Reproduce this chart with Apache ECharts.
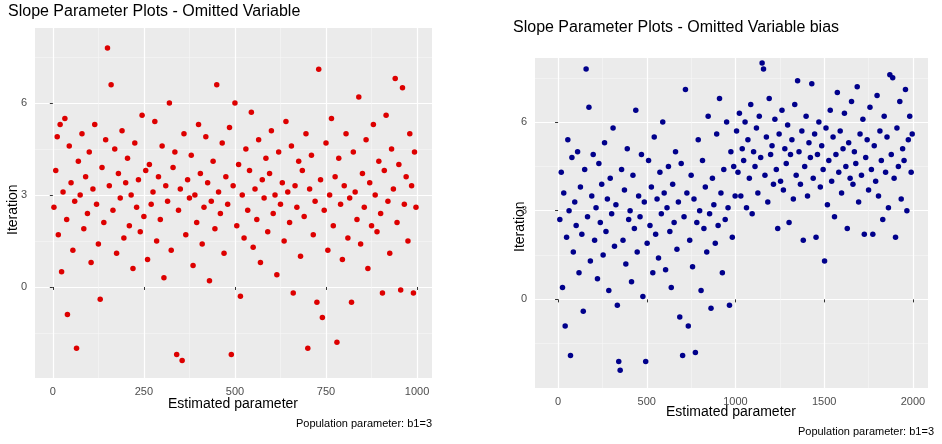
<!DOCTYPE html>
<html>
<head>
<meta charset="UTF-8"/>
<script src="https://cdn.jsdelivr.net/npm/echarts@6/dist/echarts.min.js"></script>
</head>
<body style="margin:0;background:#fff">
<div id="main" style="width:942px;height:444px;"></div>
<script>
// left panel: [estimated parameter index, iteration value]
var leftPoints = [[3,2.6],[8,3.8],[12,4.9],[15,1.7],[20,5.3],[24,0.5],[28,3.1],[33,5.5],[38,2.2],[40,-0.9],[45,4.6],[50,3.4],[55,1.2],[60,2.8],[65,-2],[70,4.1],[75,3.0],[80,5.0],[85,1.9],[90,3.6],[95,2.4],[100,4.4],[105,0.8],[110,3.2],[115,5.3],[120,2.7],[125,1.4],[130,-0.4],[135,3.9],[140,2.1],[145,4.8],[150,7.8],[155,3.3],[160,6.6],[165,2.5],[170,4.5],[175,1.1],[180,3.7],[185,2.9],[190,5.1],[195,1.6],[200,3.4],[205,4.2],[210,2.0],[215,3.0],[220,0.6],[225,4.7],[230,2.6],[235,3.5],[240,1.8],[245,5.6],[250,2.3],[255,3.8],[260,0.9],[265,4.0],[270,2.7],[275,3.1],[280,5.4],[285,1.5],[290,3.6],[295,2.2],[300,4.6],[305,0.3],[310,3.3],[315,2.8],[320,6.0],[325,1.2],[330,3.9],[335,4.4],[340,-2.2],[345,2.5],[350,3.2],[355,-2.4],[360,5.0],[365,1.7],[370,3.5],[375,2.9],[380,4.3],[385,0.7],[390,3.0],[395,2.1],[400,5.3],[405,3.7],[410,1.4],[415,2.6],[420,4.9],[425,3.4],[430,0.2],[435,2.8],[440,4.1],[445,1.9],[450,6.6],[455,3.1],[460,2.4],[465,4.7],[470,1.1],[475,3.6],[480,2.7],[485,5.2],[490,-2.2],[495,3.3],[500,6.0],[505,2.0],[510,4.0],[515,-0.3],[520,3.0],[525,1.6],[530,4.5],[535,2.5],[540,3.8],[545,5.7],[550,1.3],[555,3.2],[560,2.2],[565,4.8],[570,0.8],[575,3.5],[580,2.9],[585,4.2],[590,1.8],[595,3.7],[600,5.1],[605,2.4],[610,3.0],[615,0.4],[620,4.4],[625,2.7],[630,3.4],[635,1.5],[640,5.4],[645,3.1],[650,2.1],[655,4.6],[660,-0.2],[665,3.3],[670,2.6],[675,4.1],[680,1.0],[685,3.8],[690,2.3],[695,5.0],[700,-2.0],[705,3.2],[710,4.3],[715,1.7],[720,2.8],[725,-0.5],[730,7.1],[735,3.5],[740,-1.0],[745,2.5],[750,4.7],[755,1.2],[760,3.0],[765,5.5],[770,2.0],[775,3.6],[780,-1.8],[785,4.2],[790,2.7],[795,0.9],[800,3.3],[805,5.0],[810,1.6],[815,2.9],[820,-0.5],[825,4.4],[830,3.1],[835,2.2],[840,6.2],[845,1.4],[850,3.7],[855,2.6],[860,4.8],[865,0.6],[870,3.4],[875,2.0],[880,5.3],[885,3.0],[890,1.8],[895,4.1],[900,2.4],[905,-0.2],[910,3.8],[915,5.6],[920,2.8],[925,1.1],[930,4.5],[935,3.2],[940,6.8],[945,2.1],[950,4.0],[955,-0.1],[960,6.5],[965,2.7],[970,3.6],[975,1.5],[980,5.0],[985,3.3],[990,-0.2],[993,4.4],[997,2.6]];

// right panel
var rightPoints = [[10,2.7],[18,4.3],[25,0.4],[32,3.6],[40,-0.9],[48,2.1],[55,5.4],[62,3.0],[70,-1.9],[78,4.8],[86,1.6],[94,3.3],[102,2.5],[110,5.0],[118,0.9],[126,3.8],[134,2.2],[142,-0.4],[150,4.4],[158,7.8],[166,2.8],[174,6.5],[182,1.3],[190,3.5],[198,4.9],[206,2.0],[214,3.1],[222,0.7],[230,4.6],[238,2.6],[246,3.9],[254,1.5],[262,5.3],[270,2.3],[278,3.4],[286,0.3],[294,4.1],[302,2.9],[310,5.8],[318,1.8],[326,3.2],[334,-0.2],[342,-2.1],[350,-2.4],[358,4.4],[366,2.0],[374,3.7],[382,1.2],[390,5.1],[398,2.7],[406,3.0],[414,0.6],[422,4.2],[430,2.4],[438,6.4],[446,1.6],[454,3.5],[462,2.8],[470,4.9],[478,0.1],[486,3.3],[494,-2.1],[502,1.9],[510,4.7],[518,2.5],[526,3.8],[534,0.9],[542,5.5],[550,2.2],[558,3.4],[566,1.4],[574,4.3],[582,2.9],[590,6.0],[598,3.6],[606,1.0],[614,3.1],[622,4.5],[630,2.3],[638,0.4],[646,3.9],[654,2.6],[662,5.0],[670,1.7],[678,3.3],[686,-0.6],[694,4.6],[702,-1.9],[710,2.8],[718,7.1],[726,3.6],[734,-0.9],[742,2.0],[750,4.2],[758,1.1],[766,3.4],[774,-1.8],[782,2.6],[790,5.4],[798,3.0],[806,0.3],[814,4.7],[822,2.4],[830,3.8],[838,1.6],[846,6.2],[854,2.9],[862,-0.3],[870,4.1],[878,3.2],[886,1.9],[894,5.6],[902,2.5],[910,6.8],[918,3.6],[926,0.9],[934,4.4],[942,2.7],[950,6.0],[958,3.1],[966,-0.2],[974,5.0],[982,2.1],[990,4.5],[998,3.5],
[1006,5.7],[1014,4.3],[1022,6.3],[1030,3.5],[1038,5.1],[1046,4.7],[1054,6.0],[1062,3.1],[1070,5.4],[1078,4.1],[1086,6.6],[1094,2.9],[1102,5.0],[1110,4.5],[1118,5.8],[1126,3.6],[1134,6.2],[1142,4.8],[1150,8.0],[1158,7.8],[1166,4.2],[1174,5.5],[1182,3.3],[1190,6.8],[1198,4.9],[1206,5.2],[1214,3.9],[1222,6.1],[1230,4.4],[1238,2.4],[1246,5.6],[1254,4.0],[1262,6.4],[1270,3.7],[1278,5.1],[1286,4.6],[1294,5.9],[1302,2.6],[1310,4.9],[1318,5.4],[1326,3.4],[1334,6.6],[1342,4.2],[1350,7.4],[1358,5.0],[1366,3.9],[1374,5.7],[1382,2.0],[1390,4.5],[1398,6.2],[1406,3.5],[1414,5.3],[1422,4.8],[1430,7.3],[1438,4.1],[1446,5.6],[1454,2.1],[1462,4.9],[1470,6.0],[1478,3.8],[1486,5.2],[1494,4.4],[1502,1.3],[1510,5.8],[1518,3.2],[1526,4.7],[1534,6.4],[1542,4.0],[1550,5.5],[1558,2.8],[1566,4.9],[1574,7.0],[1582,4.3],[1590,5.7],[1598,3.6],[1606,5.1],[1614,6.3],[1622,4.5],[1630,2.4],[1638,5.3],[1646,4.1],[1654,6.7],[1662,3.9],[1670,5.0],[1678,4.6],[1686,7.2],[1694,3.3],[1702,5.6],[1710,4.2],[1718,6.1],[1726,2.2],[1734,4.8],[1742,5.4],[1750,3.7],[1758,6.5],[1766,4.4],[1774,2.2],[1782,5.2],[1790,4.0],[1798,6.9],[1806,3.5],[1814,5.7],[1822,4.7],[1830,2.7],[1838,6.2],[1846,4.3],[1854,5.5],[1862,3.1],[1870,7.6],[1878,4.9],[1886,7.5],[1894,4.1],[1902,2.1],[1910,5.8],[1918,4.5],[1926,6.7],[1934,3.4],[1942,5.1],[1950,4.7],[1958,7.1],[1966,3.0],[1974,5.4],[1982,6.2],[1990,4.3],[1996,5.6]];

var leftXTicks = [0, 250, 500, 750, 1000];
var leftXMinor = [125, 375, 625, 875];
var rightXTicks = [0, 500, 1000, 1500, 2000];
var rightXMinor = [-250, 250, 750, 1250, 1750];
var yTicks = [0, 3, 6];
var yMinor = [-1.5, 1.5, 4.5, 7.5];

var font = 'Liberation Sans';
var myChart = echarts.init(document.getElementById('main'));

function xAxes(grid, min, max, ticks, minor) {
    return [{
        type: 'value', gridIndex: grid, min: min, max: max,
        axisLine: {show: false},
        axisTick: {show: true, customValues: ticks, length: 3, lineStyle: {color: '#333'}},
        axisLabel: {customValues: ticks, color: '#4d4d4d', fontSize: 11, fontFamily: font,
                    formatter: function (v) { return String(v); }},
        splitLine: {show: true, lineStyle: {color: '#fff', width: 1.2}}
    }, {
        type: 'value', gridIndex: grid, min: min, max: max, position: 'bottom',
        axisLine: {show: false}, axisLabel: {show: false},
        axisTick: {show: false, customValues: minor},
        splitLine: {show: true, lineStyle: {color: '#f6f6f6', width: 0.6}}
    }];
}
function yAxes(grid, min, max) {
    return [{
        type: 'value', gridIndex: grid, min: min, max: max,
        axisLine: {show: false},
        axisTick: {show: true, customValues: yTicks, length: 3, lineStyle: {color: '#333'}},
        axisLabel: {customValues: yTicks, color: '#4d4d4d', fontSize: 11, fontFamily: font},
        splitLine: {show: true, lineStyle: {color: '#fff', width: 1.2}}
    }, {
        type: 'value', gridIndex: grid, min: min, max: max, position: 'left',
        axisLine: {show: false}, axisLabel: {show: false},
        axisTick: {show: false, customValues: yMinor},
        splitLine: {show: true, lineStyle: {color: '#f6f6f6', width: 0.6}}
    }];
}

var option = {
    animation: false,
    textStyle: {fontFamily: font},
    grid: [
        {left: 35, top: 28, width: 397, height: 350, show: true, backgroundColor: '#ebebeb', borderWidth: 0},
        {left: 535, top: 58, width: 393, height: 330, show: true, backgroundColor: '#ebebeb', borderWidth: 0}
    ],
    xAxis: xAxes(0, -49, 1041, leftXTicks, leftXMinor).concat(xAxes(1, -130, 2085, rightXTicks, rightXMinor)),
    yAxis: yAxes(0, -2.97, 8.45).concat(yAxes(1, -3.0, 8.17)),
    series: [
        {type: 'scatter', xAxisIndex: 0, yAxisIndex: 0, data: leftPoints, symbolSize: 5.5,
         itemStyle: {color: '#dd0000', opacity: 1}},
        {type: 'scatter', xAxisIndex: 2, yAxisIndex: 2, data: rightPoints, symbolSize: 5.5,
         itemStyle: {color: '#00008b', opacity: 1}}
    ],
    graphic: [
        {type: 'text', left: 8, top: 4, style: {text: 'Slope Parameter Plots - Omitted Variable', font: '16px Liberation Sans', fill: '#000'}},
        {type: 'text', left: 513, top: 20, style: {text: 'Slope Parameter Plots - Omitted Variable bias', font: '16px Liberation Sans', fill: '#000'}},
        {type: 'text', x: 233, y: 397, style: {text: 'Estimated parameter', font: '14px Liberation Sans', fill: '#000', align: 'center'}},
        {type: 'text', x: 731, y: 405, style: {text: 'Estimated parameter', font: '14px Liberation Sans', fill: '#000', align: 'center'}},
        {type: 'text', x: 6, y: 235, rotation: Math.PI / 2, style: {text: 'Iteration', font: '14px Liberation Sans', fill: '#000'}},
        {type: 'text', x: 513, y: 252, rotation: Math.PI / 2, style: {text: 'Iteration', font: '14px Liberation Sans', fill: '#000'}},
        {type: 'text', x: 432, y: 418, style: {text: 'Population parameter: b1=3', font: '11px Liberation Sans', fill: '#000', align: 'right'}},
        {type: 'text', x: 934, y: 426, style: {text: 'Population parameter: b1=3', font: '11px Liberation Sans', fill: '#000', align: 'right'}}
    ]
};
myChart.setOption(option);
</script>
</body>
</html>
